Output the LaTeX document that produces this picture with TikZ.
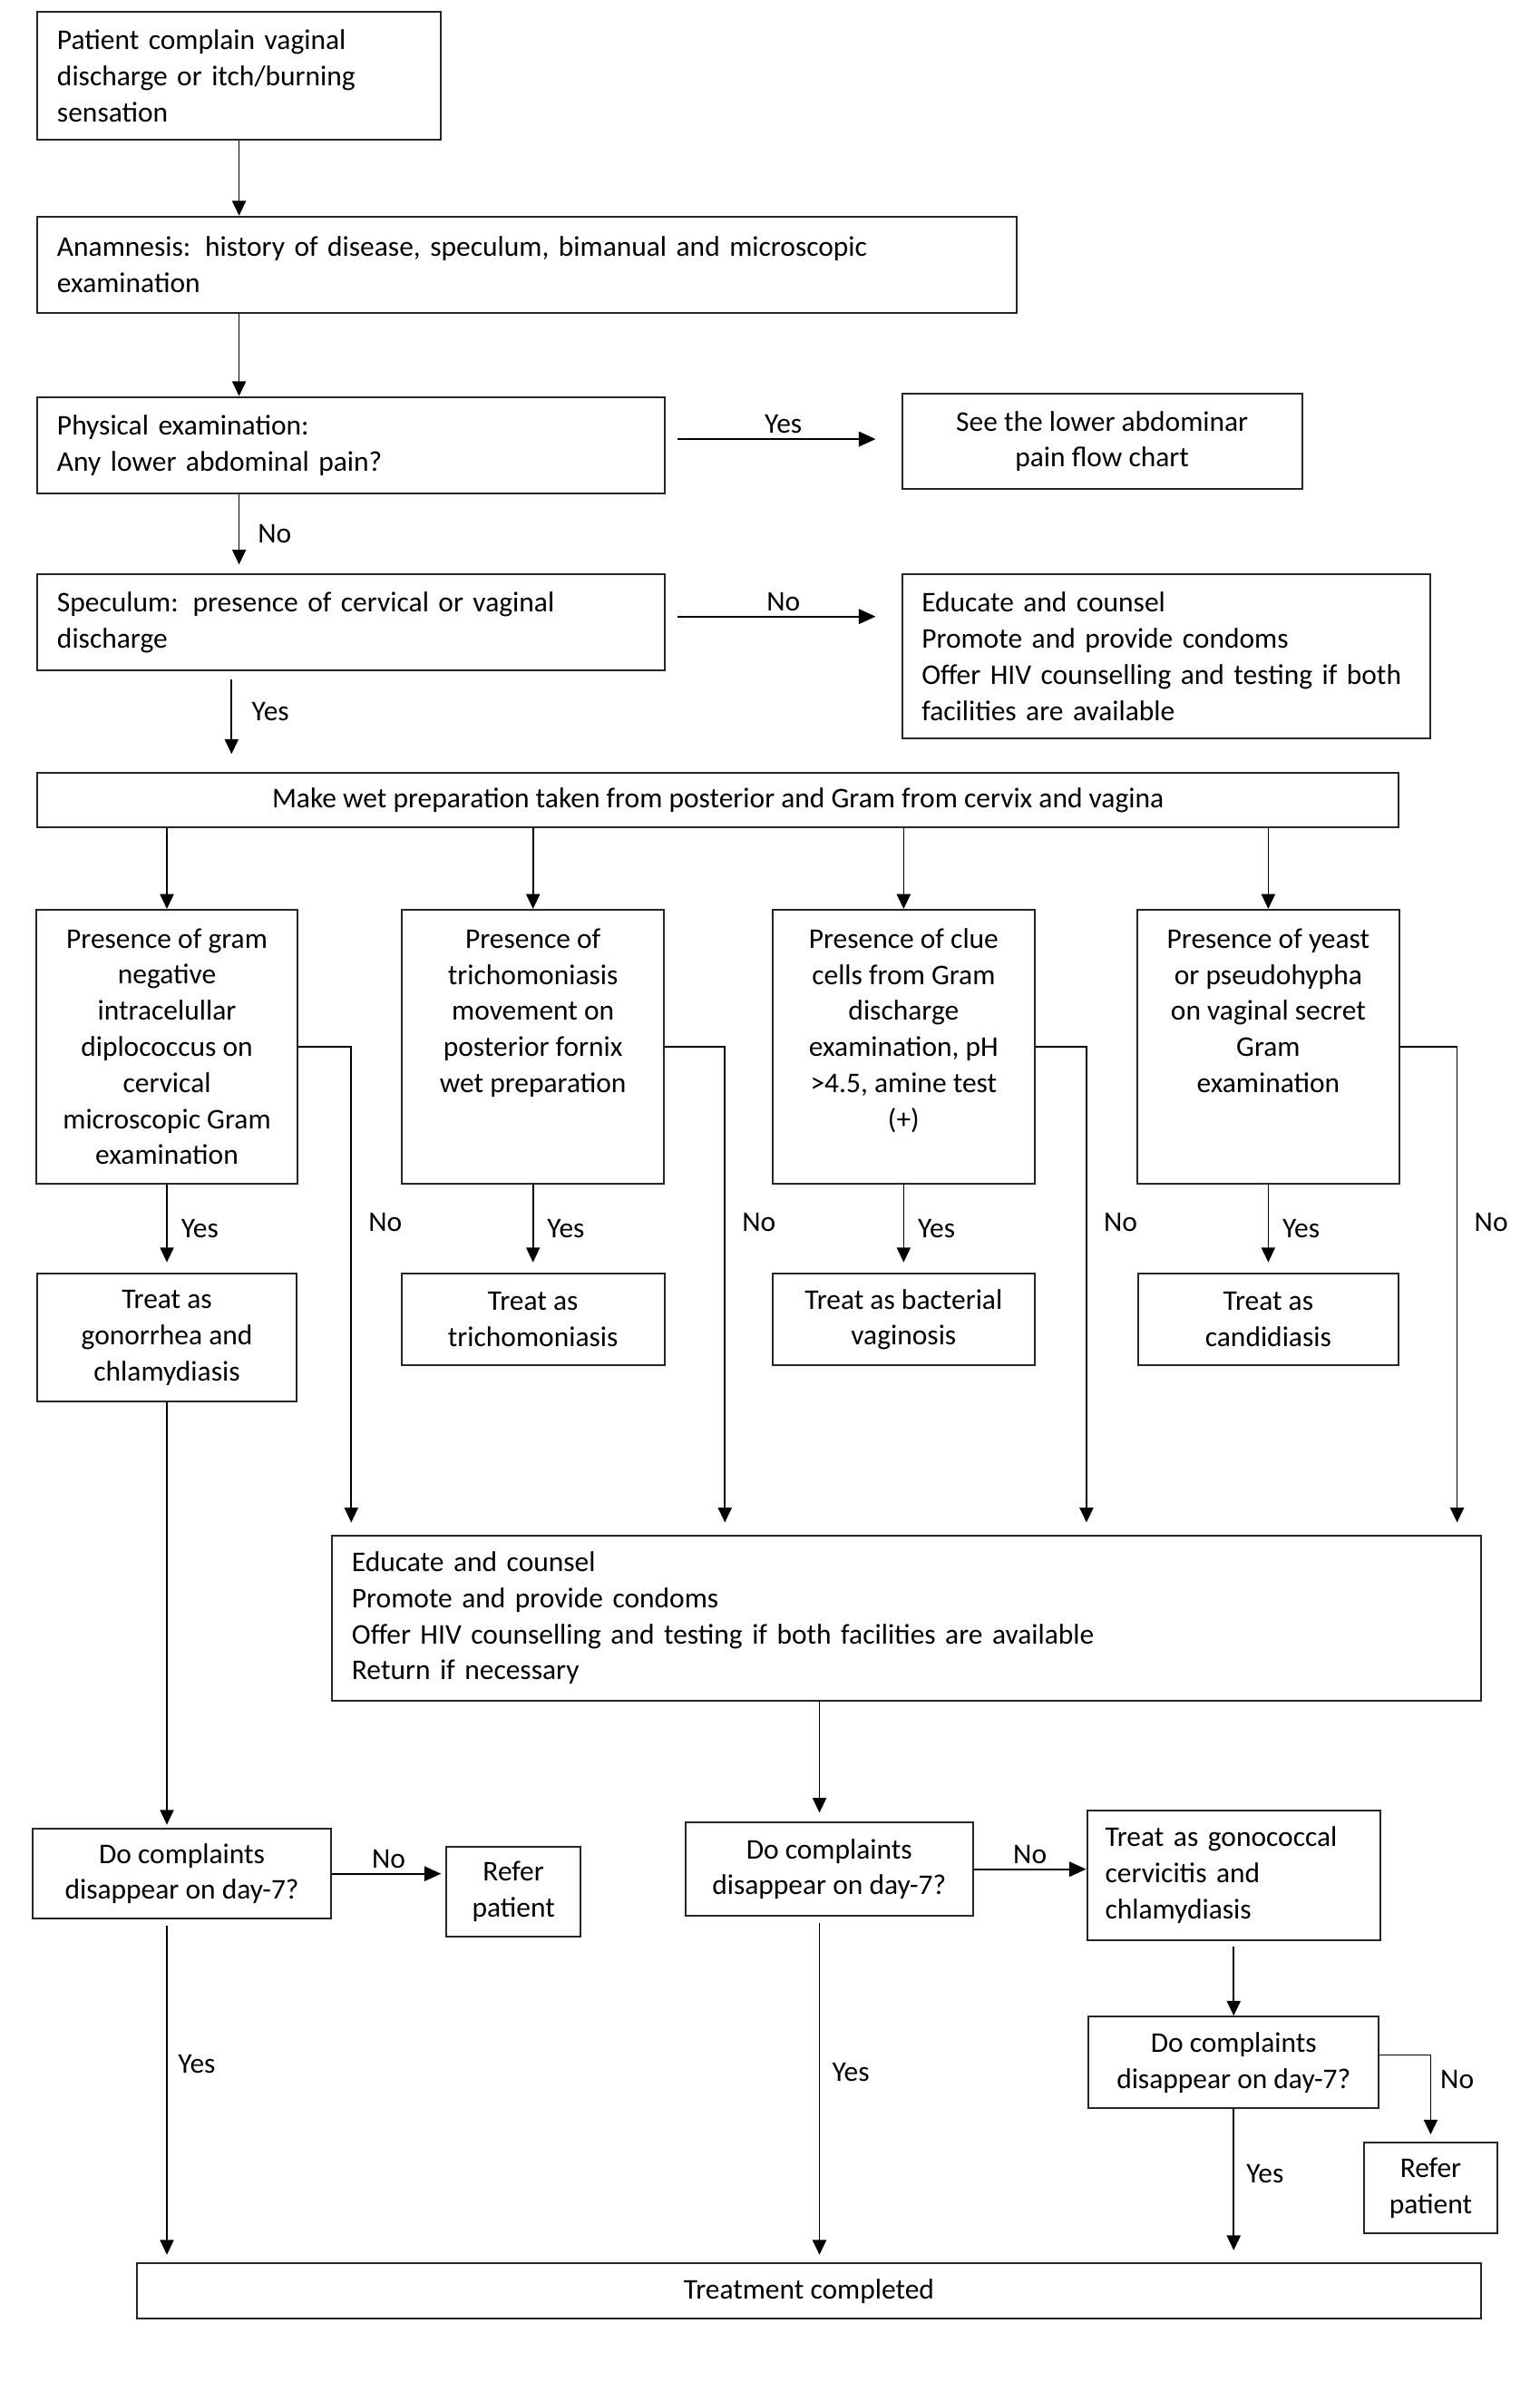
\documentclass[tikz,border=0pt]{standalone}
\usepackage{fontspec}
\setmainfont{Carlito}
\usetikzlibrary{arrows.meta,positioning}

\newdimen\pxu \pxu=0.025cm
\newcommand{\flowfont}{\fontsize{13.5}{17.07}\selectfont}

\tikzset{
  box/.style={draw=black!85, line width=0.85pt, inner sep=0pt, font=\flowfont, align=center},
  sz/.style 2 args={minimum width=#1\pxu, minimum height=#2\pxu},
  arr/.style={-{Triangle[length=7pt,width=6.5pt]}, line width=0.7pt},
  harr/.style={-{Triangle[length=8pt,width=7pt]}, line width=0.95pt},
  lbl/.style={font=\flowfont, inner sep=0pt}
}

\begin{document}
\begin{tikzpicture}[x=0.025cm, y=-0.025cm]
  \useasboundingbox (0,0) rectangle (1024,1584);

  % top part
  \node[box, align=left, sz={268}{85}, text width=242\pxu] (start) at (159,50.5) {Patient complain vaginal\\discharge or itch/burning\\sensation};
  \node[box, align=left, sz={651}{64}, text width=625\pxu] (anam) at (350.5,176) {Anamnesis: history of disease, speculum, bimanual and microscopic\\examination};
  \node[box, align=left, sz={417}{64}, text width=391\pxu] (phys) at (233.5,296) {Physical examination:\\Any lower abdominal pain?};
  \node[box, sz={266}{63}] (seeflow) at (733,293.5) {See the lower abdominar\\pain flow chart};
  \node[box, align=left, sz={417}{64}, text width=391\pxu] (spec) at (233.5,414) {Speculum: presence of cervical or vaginal\\discharge};
  \node[box, align=left, sz={351}{109}, text width=325\pxu] (edu1) at (775.5,436.5) {Educate and counsel\\Promote and provide condoms\\Offer HIV counselling and testing if both\\facilities are available};
  \node[box, sz={905}{36}] (wet) at (477.5,532) {Make wet preparation taken from posterior and Gram from cervix and vagina};

  % findings
  \node[box, sz={174}{182}] (condA) at (111,696) {Presence of gram\\negative\\intracelullar\\diplococcus on\\cervical\\microscopic Gram\\examination};
  \node[box, sz={174}{182}] (condB) at (354.5,696) {Presence of\\trichomoniasis\\movement on\\posterior fornix\\wet preparation\\~\\~};
  \node[box, sz={174}{182}] (condC) at (601,696) {Presence of clue\\cells from Gram\\discharge\\examination, pH\\>4.5, amine test\\(+)\\~};
  \node[box, sz={174}{182}] (condD) at (843.5,696) {Presence of yeast\\or pseudohypha\\on vaginal secret\\Gram\\examination\\~\\~};

  \node[box, sz={172}{85}] (treatA) at (111,889.5) {Treat as\\gonorrhea and\\chlamydiasis};
  \node[box, sz={175}{61}] (treatB) at (354.5,877.5) {Treat as\\trichomoniasis};
  \node[box, sz={174}{61}] (treatC) at (601,877.5) {Treat as bacterial\\vaginosis};
  \node[box, sz={173}{61}] (treatD) at (843.5,877.5) {Treat as\\candidiasis};

  \node[box, align=left, sz={764}{110}, text width=738\pxu] (edu2) at (603,1076) {Educate and counsel\\Promote and provide condoms\\Offer HIV counselling and testing if both facilities are available\\Return if necessary};

  % follow-up
  \node[box, sz={198}{60}] (q1) at (121,1246) {Do complaints\\disappear on day-7?};
  \node[box, sz={89}{60}] (refer1) at (341.5,1258) {Refer\\patient};
  \node[box, sz={191}{62}] (q2) at (551.5,1243) {Do complaints\\disappear on day-7?};
  \node[box, align=left, sz={195}{86}, text width=171\pxu] (tg) at (820.5,1247) {Treat as gonococcal\\cervicitis and\\chlamydiasis};
  \node[box, sz={193}{61}] (q3) at (820.5,1371.5) {Do complaints\\disappear on day-7?};
  \node[box, sz={89}{60}] (refer2) at (951.5,1455) {Refer\\patient};
  \node[box, sz={894}{37}] (final) at (538,1523.5) {Treatment completed};
  \coordinate (col2) at (545,0);

  % connectors
  \draw[arr] (start.south) -- (start.south |- anam.north);
  \draw[arr] (anam.south -| start.south) -- (phys.north -| start.south);
  \draw[harr, shorten <=8\pxu, shorten >=17\pxu] ([yshift=4\pxu]phys.east) -- ([yshift=4\pxu]phys.east -| seeflow.west) node[lbl, midway, above=3\pxu] {Yes};
  \draw[arr, shorten >=6\pxu] (phys.south -| start.south) -- (spec.north -| start.south) node[lbl, midway, right=12\pxu] {No};
  \draw[harr, shorten <=8\pxu, shorten >=17\pxu] ([yshift=4\pxu]spec.east) -- ([yshift=4\pxu]spec.east -| edu1.west) node[lbl, midway, above=3\pxu] {No};
  \draw[arr, shorten <=5\pxu, shorten >=12\pxu] ([xshift=-5\pxu]spec.south -| start.south) -- ([xshift=-5\pxu]wet.north -| start.south) node[lbl, pos=0.4, right=13\pxu] {Yes};

  \foreach \c in {A,B,C,D}
    \draw[arr] (wet.south -| cond\c.north) -- (cond\c.north);
  \foreach \c in {A,B,C,D}
    \draw[arr, shorten >=7\pxu] (cond\c.south) -- (treat\c.north) node[lbl, midway, right=9\pxu] {Yes};
  \foreach \c/\d in {A/35,B/40,C/34,D/38}
    \draw[arr, shorten >=8\pxu] (cond\c.east) -- ++(\d,0) coordinate (drop\c) -- (drop\c |- edu2.north) node[lbl, pos=0.36, right=11\pxu] {No};

  \draw[arr, shorten >=2\pxu] (treatA.south) -- (treatA.south |- q1.north);
  \draw[harr, shorten >=3\pxu] (q1.east) -- (q1.east -| refer1.west) node[lbl, midway, above=3\pxu] {No};
  \draw[arr, shorten <=4\pxu, shorten >=5\pxu] (q1.south -| treatA.south) -- (final.north -| treatA.south) node[lbl, pos=0.42, right=7\pxu] {Yes};

  \draw[arr, shorten >=6\pxu] (edu2.south -| col2) -- (q2.north -| col2);
  \draw[harr] (q2.east) -- (q2.east -| tg.west) node[lbl, midway, above=3\pxu] {No};
  \draw[arr, shorten <=4\pxu, shorten >=5\pxu] (q2.south -| col2) -- (final.north -| col2) node[lbl, pos=0.45, right=8\pxu] {Yes};
  \draw[arr, shorten <=4\pxu] (tg.south) -- (q3.north);
  \draw[arr, shorten >=5\pxu] ([yshift=5\pxu]q3.east) -| (refer2.north) node[lbl, pos=0.64, right=6\pxu] {No};
  \draw[arr, shorten >=8\pxu] (q3.south) -- (q3.south |- final.north) node[lbl, pos=0.42, right=8\pxu] {Yes};
\end{tikzpicture}
\end{document}
